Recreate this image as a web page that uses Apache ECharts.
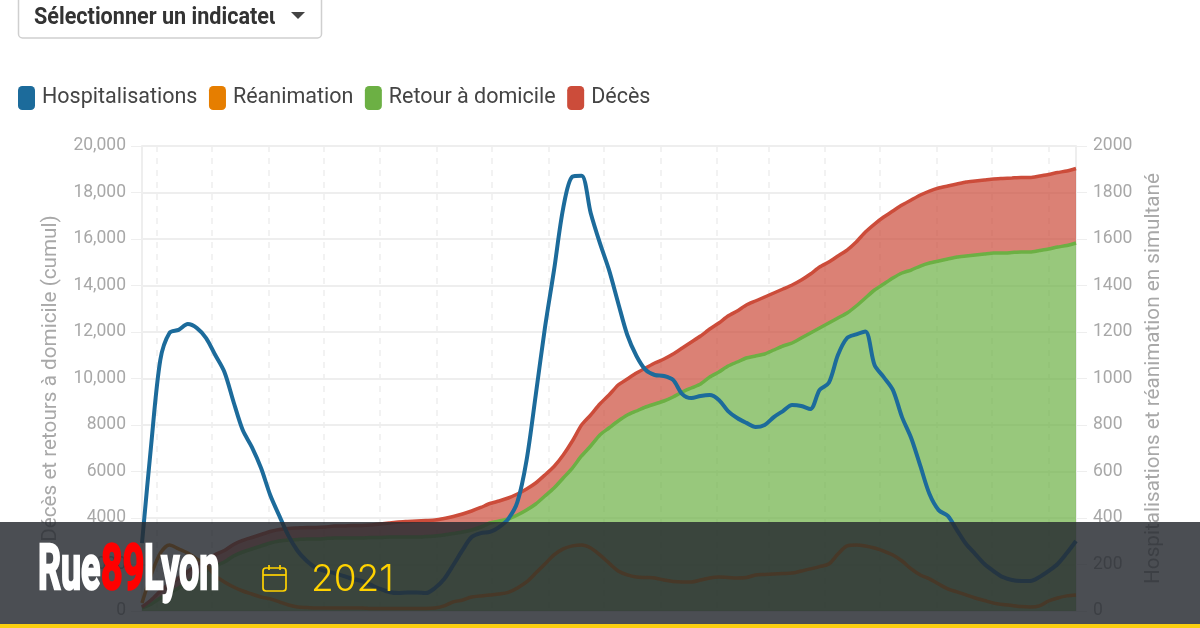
<!DOCTYPE html>
<html lang="fr">

<head>
  <meta charset="UTF-8">
  <title>Rue89Lyon | 2021</title>
  <style>
    html, body { margin: 0; padding: 0; background: #fff; overflow: hidden; }
    #chart { width: 1200px; height: 628px; }
  </style>
  <script src="https://cdn.jsdelivr.net/npm/echarts@6/dist/echarts.min.js"></script>
</head>

<body>
  <div id="chart"></div>
  <script>
    // one reading every 5 days, from 24 March 2020
    const firstDay = Date.UTC(2020, 2, 24);
    const stepDays = 5;

    const hospitalisations = [292, 714, 1080, 1196, 1209, 1234, 1217, 1174, 1101, 1028, 899, 778, 705, 615, 499, 409, 323, 258, 215, 185, 172, 163, 151, 138, 129, 112, 95, 82, 77, 80, 80, 77, 99, 138, 198, 262, 318, 335, 340, 361, 396, 469, 649, 929, 1217, 1467, 1733, 1868, 1872, 1712, 1583, 1467, 1325, 1187, 1097, 1037, 1015, 1011, 994, 933, 916, 925, 929, 908, 860, 830, 809, 791, 800, 834, 860, 886, 882, 869, 951, 981, 1101, 1174, 1190, 1202, 1058, 1006, 951, 834, 744, 624, 503, 434, 409, 348, 288, 245, 202, 172, 146, 133, 129, 129, 146, 172, 202, 249, 301];
    const reanimation = [34, 155, 249, 284, 267, 249, 224, 198, 151, 125, 103, 86, 73, 60, 52, 39, 26, 17, 15, 13, 13, 13, 13, 13, 13, 11, 11, 11, 11, 11, 11, 11, 13, 22, 39, 47, 60, 65, 69, 73, 80, 99, 125, 163, 202, 241, 267, 280, 284, 271, 241, 206, 172, 155, 146, 144, 142, 133, 127, 125, 125, 133, 142, 146, 144, 142, 144, 155, 157, 159, 161, 163, 172, 181, 191, 202, 245, 280, 284, 280, 271, 258, 241, 215, 181, 155, 138, 116, 95, 82, 69, 56, 45, 34, 28, 24, 19, 17, 22, 43, 56, 65, 69];
    const retours = [129, 301, 559, 774, 989, 1247, 1505, 1720, 1935, 2107, 2366, 2538, 2667, 2796, 2925, 3011, 3054, 3075, 3097, 3097, 3118, 3140, 3140, 3140, 3140, 3161, 3161, 3183, 3183, 3183, 3183, 3204, 3226, 3269, 3333, 3398, 3484, 3613, 3785, 3871, 3957, 4129, 4344, 4602, 4946, 5290, 5720, 6150, 6667, 7097, 7570, 7871, 8172, 8430, 8602, 8774, 8903, 9032, 9204, 9419, 9591, 9763, 10064, 10279, 10537, 10709, 10882, 10968, 11054, 11226, 11398, 11527, 11742, 11957, 12172, 12387, 12602, 12817, 13118, 13462, 13806, 14064, 14322, 14537, 14666, 14838, 14967, 15054, 15140, 15226, 15269, 15312, 15355, 15398, 15398, 15419, 15441, 15441, 15505, 15570, 15656, 15720, 15828];
    const deces = [43, 172, 301, 387, 430, 452, 473, 473, 495, 495, 495, 495, 495, 495, 495, 495, 495, 495, 495, 495, 495, 516, 516, 538, 538, 538, 581, 602, 645, 667, 688, 688, 688, 710, 731, 774, 817, 839, 839, 860, 903, 903, 903, 903, 903, 925, 989, 1161, 1333, 1333, 1333, 1419, 1548, 1548, 1634, 1677, 1763, 1806, 1849, 1892, 1978, 2064, 2064, 2107, 2150, 2193, 2279, 2365, 2451, 2451, 2451, 2494, 2494, 2537, 2623, 2623, 2666, 2709, 2752, 2838, 2838, 2881, 2881, 2924, 3010, 3053, 3096, 3139, 3139, 3139, 3182, 3182, 3182, 3182, 3204, 3204, 3204, 3204, 3204, 3204, 3204, 3204, 3204];

    const dates = hospitalisations.map((v, i) => firstDay + i * stepDays * 86400000);
    const lastDay = dates[dates.length - 1];
    const toPairs = (values) => values.map((v, i) => [dates[i], v]);

    const grey = '#a8a8a8';
    const gridColor = '#eeeeee';
    const font = 'Roboto, sans-serif';

    let myChart = echarts.init(document.getElementById('chart'));

    let option = {
      animation: false,
      textStyle: { fontFamily: font },
      legend: {
        left: 13,
        top: 81,
        itemWidth: 17,
        itemHeight: 24,
        itemGap: 11.5,
        icon: 'roundRect',
        data: ['Hospitalisations', 'Réanimation', 'Retour à domicile', 'Décès'],
        textStyle: { fontFamily: font, fontSize: 21.5, color: '#444', padding: [0, 0, 0, 2] }
      },
      grid: { left: 142, right: 124, top: 146, bottom: 17 },
      xAxis: {
        type: 'time',
        min: firstDay,
        max: lastDay,
        splitNumber: 17,
        axisLabel: { show: false },
        axisTick: { show: false },
        axisLine: { show: false },
        splitLine: { show: true, showMinLine: false, showMaxLine: false, lineStyle: { type: [6, 6], color: gridColor, width: 1.5 } }
      },
      yAxis: [
        {
          type: 'value',
          min: 0,
          max: 20000,
          interval: 2000,
          name: 'Décès et retours à domicile (cumul)',
          nameLocation: 'middle',
          nameGap: 81,
          nameTextStyle: { fontFamily: font, fontSize: 20.7, color: grey },
          axisLabel: {
            fontFamily: font,
            fontSize: 17.5,
            color: grey,
            margin: 16,
            padding: [4, 0, 0, 0],
            formatter: (v) => (v >= 10000 ? String(v).replace(/(\d{3})$/, ',$1') : String(v))
          },
          axisTick: { show: true, length: 11, lineStyle: { color: gridColor } },
          axisLine: { show: true, lineStyle: { color: gridColor, width: 2 } },
          splitLine: { lineStyle: { color: gridColor, width: 2 } }
        },
        {
          type: 'value',
          min: 0,
          max: 2000,
          interval: 200,
          name: 'Hospitalisations et réanimation en simultané',
          nameLocation: 'middle',
          nameGap: 67,
          nameTextStyle: { fontFamily: font, fontSize: 20.7, color: grey },
          axisLabel: { fontFamily: font, fontSize: 17.5, color: grey, margin: 17, padding: [4, 0, 0, 0], formatter: (v) => String(v) },
          axisTick: { show: true, length: 11, lineStyle: { color: gridColor } },
          axisLine: { show: true, lineStyle: { color: gridColor, width: 2 } },
          splitLine: { show: false }
        }
      ],
      series: [
        {
          name: 'Retour à domicile',
          type: 'line',
          stack: 'cumul',
          yAxisIndex: 0,
          data: toPairs(retours),
          showSymbol: false,
          smooth: 0.2,
          z: 2,
          itemStyle: { color: '#6cb044' },
          lineStyle: { color: '#6cb044', width: 3.5 },
          areaStyle: { color: '#6cb044', opacity: 0.7 }
        },
        {
          name: 'Décès',
          type: 'line',
          stack: 'cumul',
          yAxisIndex: 0,
          data: toPairs(deces),
          showSymbol: false,
          smooth: 0.2,
          z: 2,
          itemStyle: { color: '#cc4c3a' },
          lineStyle: { color: '#cc4c3a', width: 3.5 },
          areaStyle: { color: '#cc4c3a', opacity: 0.7 }
        },
        {
          name: 'Réanimation',
          type: 'line',
          yAxisIndex: 1,
          data: toPairs(reanimation),
          showSymbol: false,
          smooth: 0.3,
          z: 3,
          itemStyle: { color: '#e67e00' },
          lineStyle: { color: '#e67e00', width: 3.5 }
        },
        {
          name: 'Hospitalisations',
          type: 'line',
          yAxisIndex: 1,
          data: toPairs(hospitalisations),
          showSymbol: false,
          smooth: 0.3,
          z: 4,
          itemStyle: { color: '#1c6b9b' },
          lineStyle: { color: '#1c6b9b', width: 4 }
        }
      ],
      graphic: [
        // dropdown
        { type: 'rect', z: 50, shape: { x: 18.5, y: -10, width: 303, height: 48, r: 4 }, style: { fill: '#fff', stroke: '#cfcfcf', lineWidth: 1.5 } },
        { type: 'text', z: 51, x: 34, y: 6, scaleX: 0.9, style: { text: 'Sélectionner un indicateur', font: 'bold 24px ' + font, fill: '#333' } },
        { type: 'rect', z: 52, shape: { x: 275, y: 0, width: 44, height: 36 }, style: { fill: '#fff' } },
        { type: 'polygon', z: 53, shape: { points: [[291, 12], [305, 12], [298, 19]] }, style: { fill: '#444' } },
        // banner
        { type: 'rect', z: 100, shape: { x: 0, y: 522, width: 1200, height: 102 }, style: { fill: 'rgba(38,42,48,0.83)' } },
        { type: 'rect', z: 100, shape: { x: 0, y: 624, width: 1200, height: 4 }, style: { fill: '#fbcf0f' } },
        { type: 'text', z: 101, x: 38, y: 542, scaleX: 0.57, style: { text: 'Rue', font: 'bold 63px ' + font, fill: '#fff', stroke: '#fff', lineWidth: 2.5 } },
        { type: 'text', z: 101, x: 101, y: 542, scaleX: 0.6, style: { text: '89', font: 'bold 63px ' + font, fill: '#f00', stroke: '#f00', lineWidth: 2.5 } },
        { type: 'text', z: 101, x: 144, y: 542, scaleX: 0.57, style: { text: 'Lyon', font: 'bold 63px ' + font, fill: '#fff', stroke: '#fff', lineWidth: 2.5 } },
        // calendar icon
        { type: 'rect', z: 101, shape: { x: 263, y: 568, width: 23, height: 23, r: 3 }, style: { fill: 'none', stroke: '#ffd200', lineWidth: 1.7 } },
        { type: 'line', z: 101, shape: { x1: 263, y1: 575, x2: 286, y2: 575 }, style: { stroke: '#ffd200', lineWidth: 1.7 } },
        { type: 'line', z: 101, shape: { x1: 269, y1: 565, x2: 269, y2: 570 }, style: { stroke: '#ffd200', lineWidth: 1.7 } },
        { type: 'line', z: 101, shape: { x1: 280, y1: 565, x2: 280, y2: 570 }, style: { stroke: '#ffd200', lineWidth: 1.7 } },
        { type: 'text', z: 101, x: 311, y: 561, style: { text: '2021', font: '300 37px Inter, Roboto, sans-serif', fill: '#ffd200' } }
      ]
    };

    myChart.setOption(option);
  </script>
</body>

</html>
